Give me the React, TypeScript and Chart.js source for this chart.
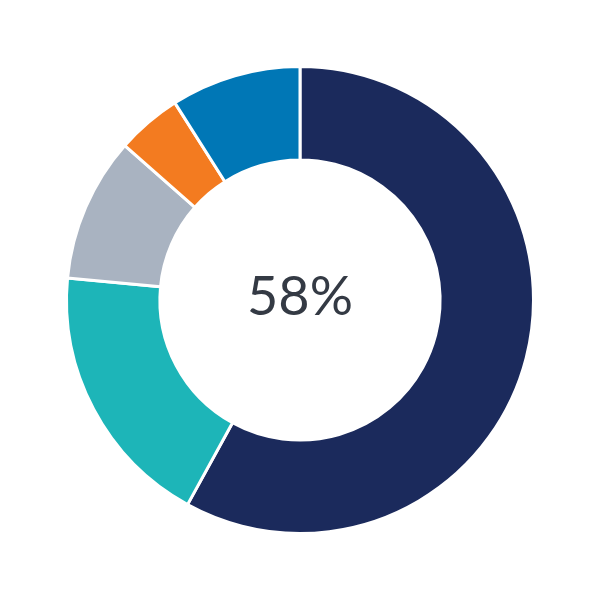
import { useEffect, useRef } from "react";
import { Chart, registerables } from "chart.js";

Chart.register(...registerables);

const labels = ["Navy", "Teal", "Gray", "Orange", "Blue"];
const values = [58, 18.5, 10, 4.5, 9];
const colors = ["#1b2a5c", "#1db5b8", "#a9b3c1", "#f37b20", "#0077b6"];
const centerLabel = "58%";

const centerText = {
  id: "centerText",
  afterDraw(chart: Chart) {
    const { ctx, chartArea } = chart;
    const cx = (chartArea.left + chartArea.right) / 2;
    const cy = (chartArea.top + chartArea.bottom) / 2;
    ctx.save();
    ctx.font = "400 54px Lato";
    ctx.fillStyle = "#343a44";
    ctx.textAlign = "center";
    ctx.textBaseline = "middle";
    ctx.fillText(centerLabel, cx, cy - 2);
    ctx.restore();
  },
};

export default function App() {
  const chartRef = useRef<HTMLCanvasElement>(null);
  const chartInstance = useRef<Chart | null>(null);

  useEffect(() => {
    document.body.style.margin = "0";
    if (!chartRef.current) return;
    if (chartInstance.current) chartInstance.current.destroy();
    const ctx = chartRef.current.getContext("2d");
    if (!ctx) return;

    chartInstance.current = new Chart(ctx, {
      type: "doughnut",
      data: {
        labels,
        datasets: [
          {
            data: values,
            backgroundColor: colors,
            borderColor: "#ffffff",
            borderWidth: 3,
          },
        ],
      },
      options: {
        responsive: false,
        animation: false,
        cutout: "60%",
        layout: { padding: 65 },
        plugins: {
          legend: { display: false },
          tooltip: { enabled: false },
        },
      },
      plugins: [centerText],
    });

    return () => {
      if (chartInstance.current) {
        chartInstance.current.destroy();
        chartInstance.current = null;
      }
    };
  }, []);

  return (
    <div style={{ width: 600, height: 600, background: "#fff" }}>
      <canvas ref={chartRef} width={600} height={600}></canvas>
    </div>
  );
}
